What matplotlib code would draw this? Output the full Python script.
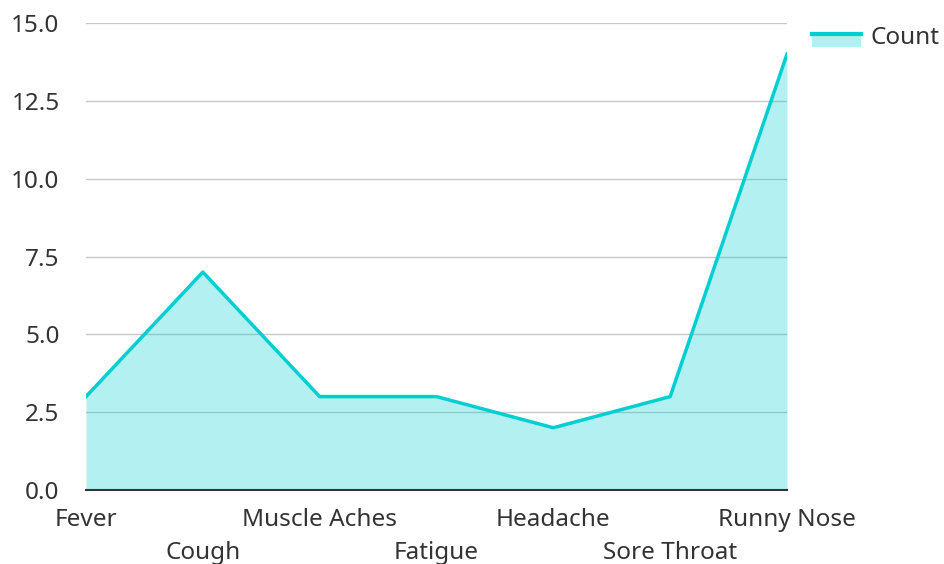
import matplotlib
matplotlib.use("Agg")
import matplotlib.pyplot as plt
from matplotlib.patches import Rectangle
from matplotlib.lines import Line2D
from matplotlib.legend_handler import HandlerBase

plt.rcParams['font.family'] = ['Noto Sans', 'DejaVu Sans']

symptoms = ['Fever', 'Cough', 'Muscle Aches', 'Fatigue', 'Headache', 'Sore Throat', 'Runny Nose']
counts = [3, 7, 3, 3, 2, 3, 14]
y_ticks = [0, 2.5, 5, 7.5, 10, 12.5, 15]

line_col = '#00CED1'
text_col = '#333333'


class AreaHandler(HandlerBase):
    # filled box with the line along its top edge
    def create_artists(self, legend, orig_handle, xdescent, ydescent, width, height, fontsize, trans):
        bottom = -ydescent - height * 0.15
        top = -ydescent + height * 0.68
        box = Rectangle((-xdescent, bottom), width, top - bottom,
                        facecolor=line_col, alpha=0.3, edgecolor='none', transform=trans)
        ln = Line2D([-xdescent, -xdescent + width], [top - 1.2, top - 1.2],
                    color=line_col, linewidth=3, transform=trans)
        return [box, ln]


fig = plt.figure(figsize=(9.45, 5.64), dpi=100)
ax = fig.add_axes([86 / 945, 1 - 490 / 564, (787 - 86) / 945, (490 - 23) / 564])

x = list(range(len(symptoms)))
ax.fill_between(x, counts, 0, color=line_col, alpha=0.3, linewidth=0, zorder=2)
ax.plot(x, counts, color=line_col, linewidth=2.5, zorder=3)

ax.set_xlim(0, len(symptoms) - 1)
ax.set_ylim(0, 15)
ax.set_yticks(y_ticks)
ax.set_yticklabels(['%.1f' % v for v in y_ticks])
ax.set_xticks(x)
ax.set_xticklabels(symptoms)

ax.grid(axis='y', color='#c8c8c8', linewidth=1, zorder=1)
ax.grid(axis='x', visible=False)
ax.set_axisbelow(True)
for s in ['top', 'right', 'left']:
    ax.spines[s].set_visible(False)
ax.spines['bottom'].set_color('#333333')
ax.spines['bottom'].set_linewidth(1.5)
ax.spines['bottom'].set_zorder(4)

ax.tick_params(axis='y', length=0, pad=19, labelsize=17.5, labelcolor=text_col)
ax.tick_params(axis='x', length=0, pad=13, labelsize=17.5, labelcolor=text_col)
for t in ax.xaxis.get_major_ticks()[1::2]:
    t.set_pad(37)

ax.legend([object()], ['Count'], handler_map={object: AreaHandler()},
          loc='upper left', bbox_to_anchor=(812 / 945, 1 - 26 / 564), bbox_transform=fig.transFigure,
          frameon=False, borderpad=0, borderaxespad=0,
          fontsize=17.5, labelcolor=text_col, handlelength=2.0, handletextpad=0.4)

fig.savefig('out.png', dpi=100)
